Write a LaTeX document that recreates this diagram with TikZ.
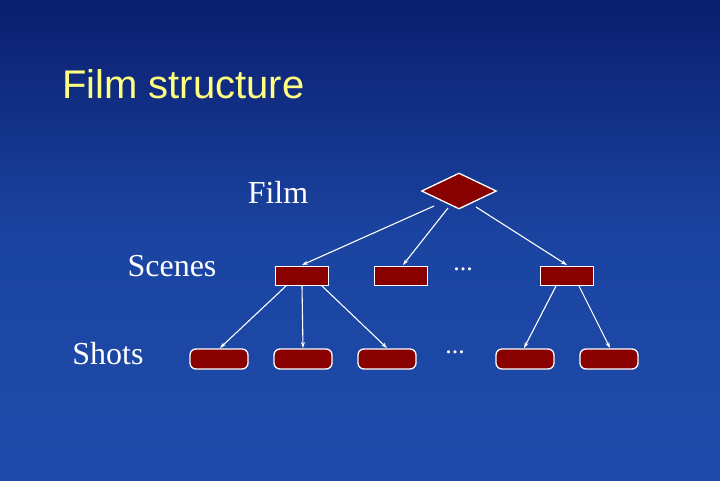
\documentclass[tikz,border=0pt]{standalone}
\usepackage{fontspec}
\setmainfont{Liberation Serif}
\newfontfamily\arialf{Liberation Sans}
\usetikzlibrary{shapes.geometric,arrows.meta}
\definecolor{bgtop}{HTML}{0A1E6E}
\definecolor{bgbot}{HTML}{1E4BAA}
\definecolor{box}{HTML}{880000}
\definecolor{ttl}{HTML}{FFFF80}
\begin{document}
\begin{tikzpicture}[x=1pt,y=-1pt,
  scene/.style={draw=white,line width=1.3pt,fill=box,minimum width=53pt,minimum height=19pt,inner sep=0pt},
  shot/.style={draw=white,line width=1.3pt,fill=box,rounded corners=6pt,minimum width=58pt,minimum height=20pt,inner sep=0pt},
  arr/.style={draw=white,line width=1.1pt,-{Stealth[length=6pt,width=4pt]}},
  lbl/.style={text=white,font=\fontsize{32}{32}\selectfont,inner sep=0pt}]
\shade[top color=bgtop,bottom color=bgbot,middle color=bgbot!85!bgtop] (0,0) rectangle (720,480);
\useasboundingbox (0,0) rectangle (720,480);
\node[anchor=west,text=ttl,font=\arialf\fontsize{40}{40}\selectfont,inner sep=0pt] (title) at (62,84) {Film structure};
\node[diamond,draw=white,line width=1.3pt,fill=box,minimum width=75pt,minimum height=36pt,inner sep=0pt,aspect=2.1] (film) at (459,191) {};
\node[scene] (s1) at (302,276) {};
\node[scene] (s2) at (401,276) {};
\node[scene] (s3) at (567,276) {};
\node[shot] (h1) at (219,359) {};
\node[shot] (h2) at (303,359) {};
\node[shot] (h3) at (387,359) {};
\node[shot] (h4) at (525,359) {};
\node[shot] (h5) at (609,359) {};
\node[lbl] (lf) at (278,192) {Film};
\node[lbl] (ls) at (172,266) {Scenes};
\node[lbl] (lh) at (108,354) {Shots};
\node[lbl,font=\fontsize{26}{26}\selectfont] (d1) at (463,269) {...};
\node[lbl,font=\fontsize{26}{26}\selectfont] (d2) at (455,352) {...};
\coordinate (f1) at (434,206); \coordinate (f2) at (448,208); \coordinate (f3) at (476,207);
\coordinate (t1) at (302,265); \coordinate (t2) at (403,265); \coordinate (t3) at (567,265);
\coordinate (a) at (286,286); \coordinate (b) at (322,286); \coordinate (c) at (556,286); \coordinate (d) at (579,286);
\coordinate (u1) at (220,348); \coordinate (u2) at (303,348); \coordinate (u3) at (387,348);
\coordinate (u4) at (524,348); \coordinate (u5) at (610,348);
\draw[arr] (f1) -- (t1);
\draw[arr] (f2) -- (t2);
\draw[arr] (f3) -- (t3);
\draw[arr] (a) -- (u1);
\draw[arr] (s1.south) -- (u2);
\draw[arr] (b) -- (u3);
\draw[arr] (c) -- (u4);
\draw[arr] (d) -- (u5);
\end{tikzpicture}
\end{document}
